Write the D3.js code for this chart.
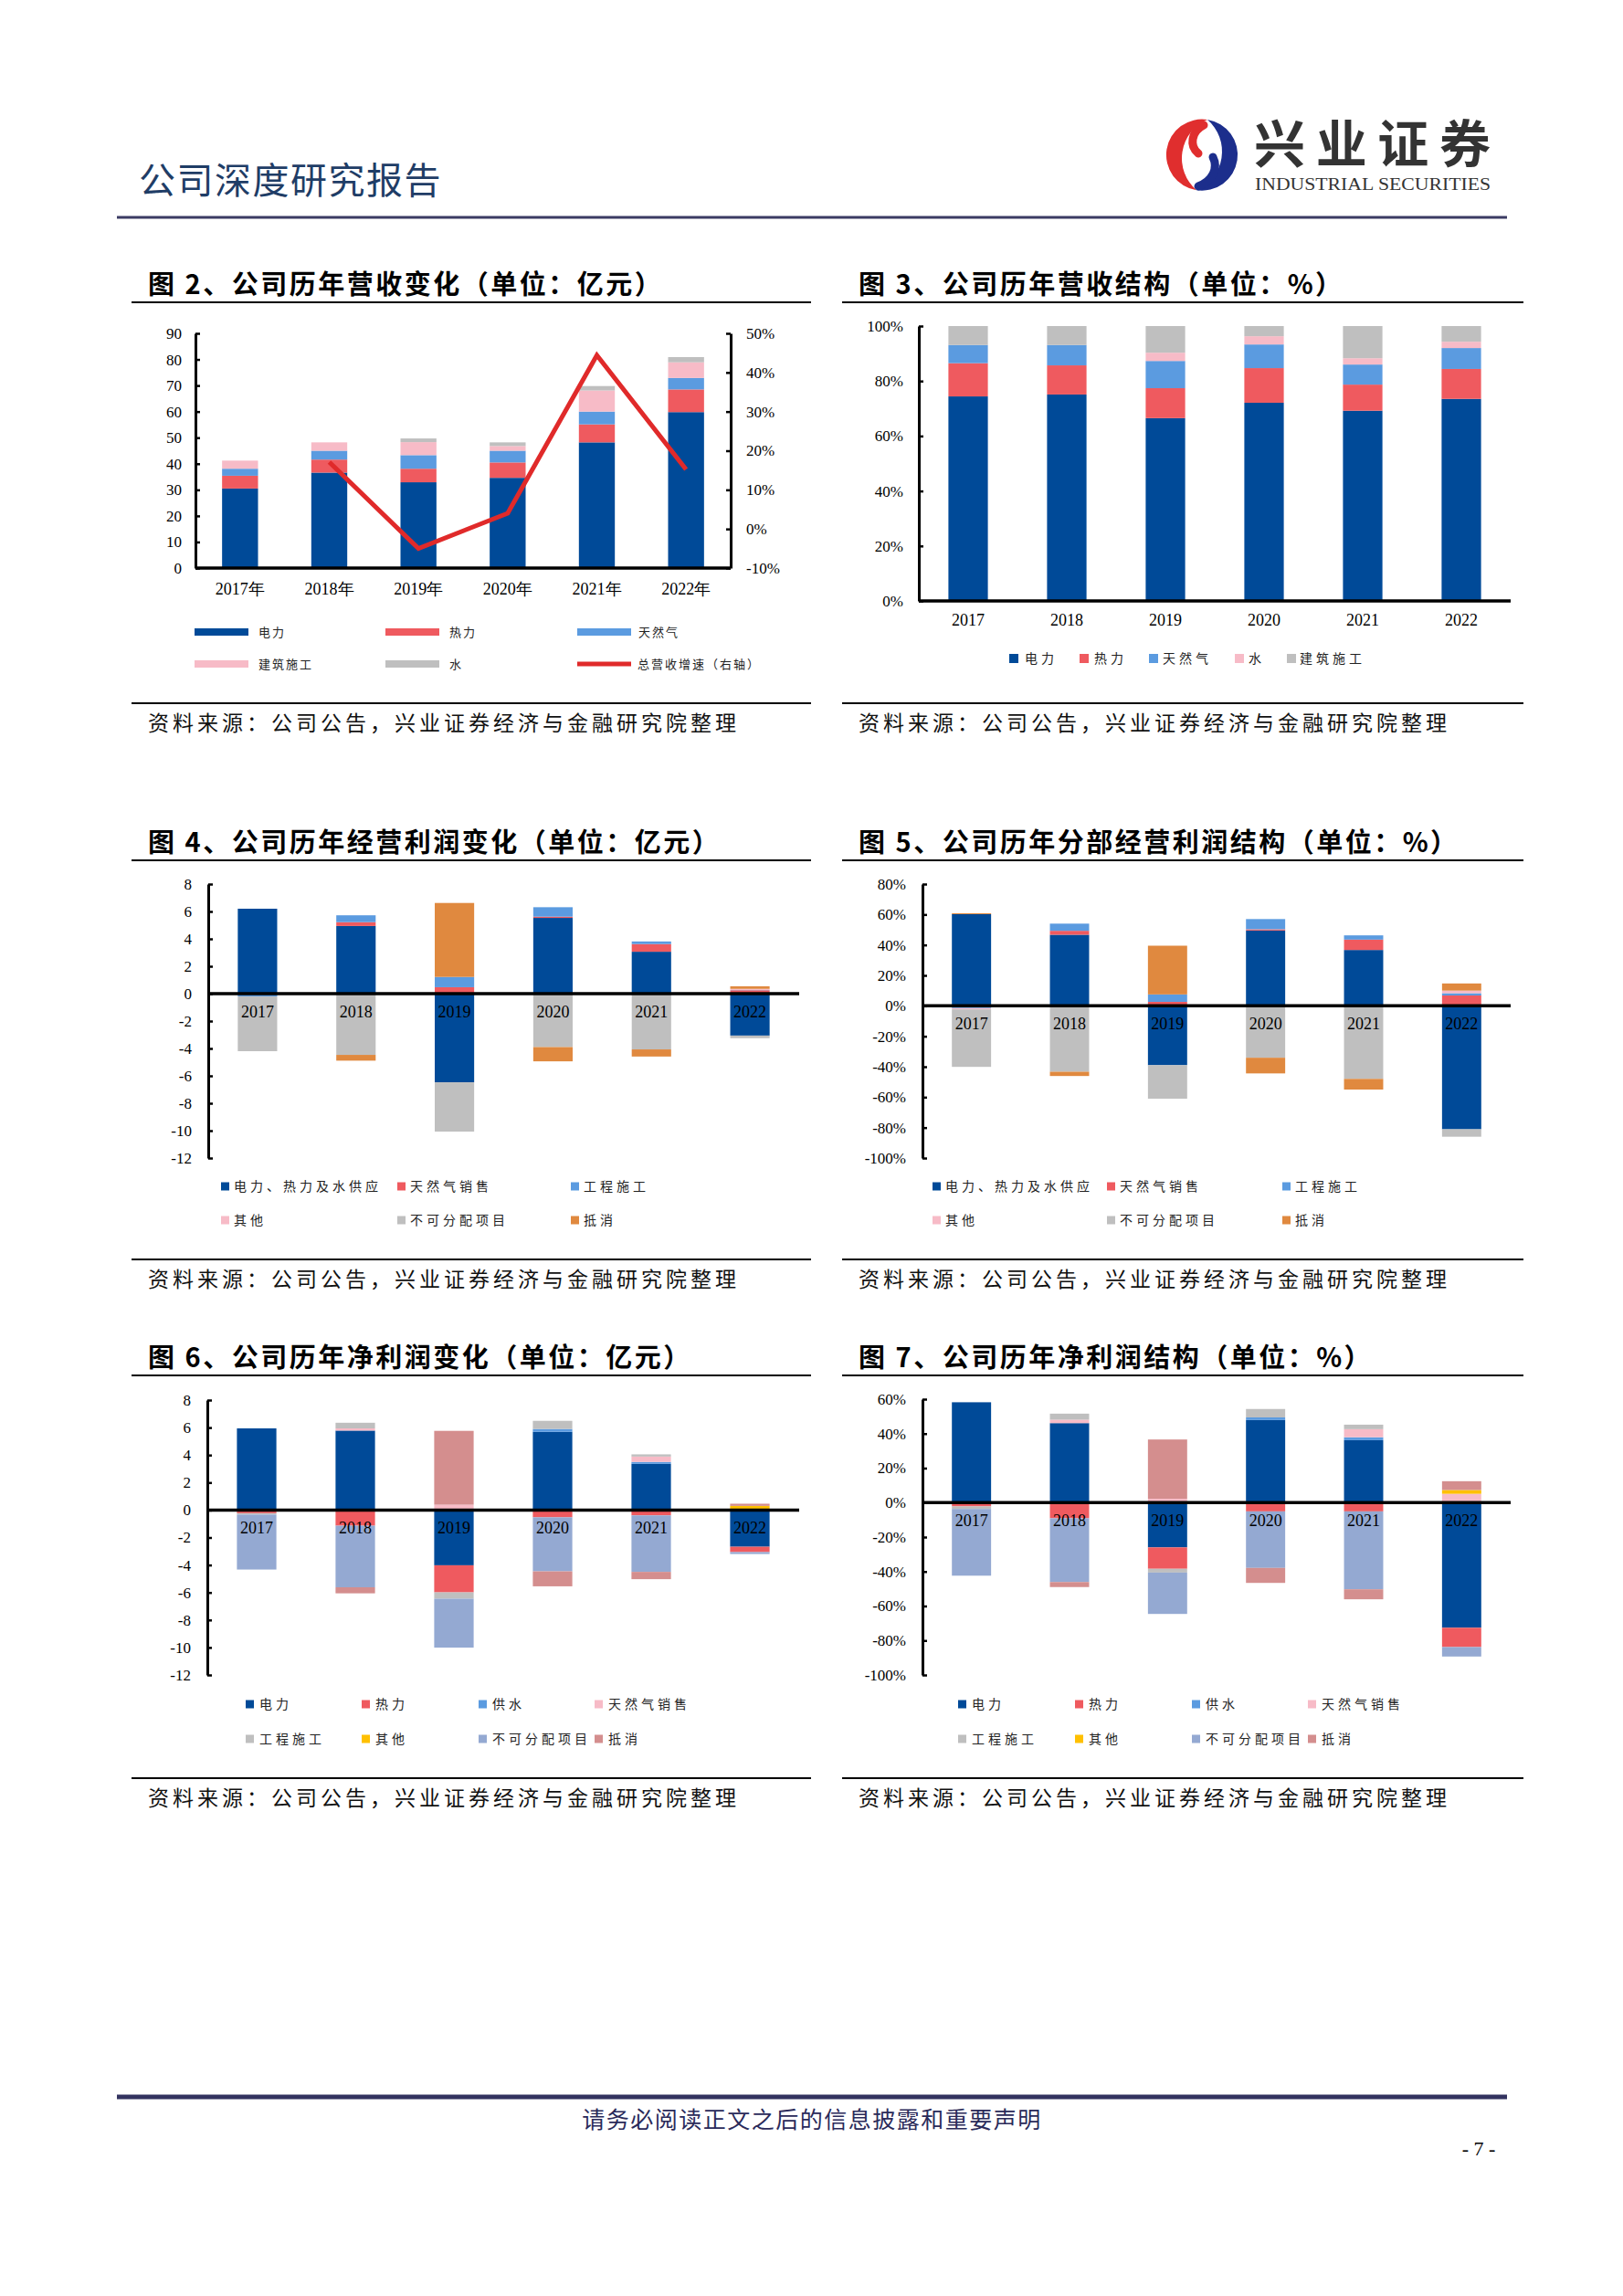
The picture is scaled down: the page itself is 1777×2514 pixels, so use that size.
<!DOCTYPE html>
<html>
<head>
<meta charset="utf-8">
<script src="https://cdn.jsdelivr.net/npm/d3@7"></script>
<style>
body { margin: 0; background: #fff; }
</style>
</head>
<body>
<svg id="page"></svg>
<script>
// years on every chart
var years = ["2017", "2018", "2019", "2020", "2021", "2022"];

// fig 2 - revenue (亿元)
var revKeys = ["电力", "热力", "天然气", "建筑施工", "水"];
var revPower = [30.5, 36.6, 32.9, 34.6, 48.2, 59.8];
var revHeat = [4.9, 5.0, 5.2, 5.9, 6.9, 8.7];
var revGas = [2.7, 3.4, 5.2, 4.5, 4.9, 4.4];
var revBuild = [3.1, 3.2, 5.0, 1.8, 8.1, 6.0];
var revWater = [0, 0, 1.4, 1.4, 1.7, 2.0];
var revGrowth = [null, 17.1, -5.0, 4.0, 44.4, 15.2];
var revTicks = [0, 10, 20, 30, 40, 50, 60, 70, 80, 90];
var growthTicks = [-10, 0, 10, 20, 30, 40, 50];

// fig 3 - revenue structure (%)
var shKeys = ["电力", "热力", "天然气", "水", "建筑施工"];
var shPower = [74.4, 75.1, 66.5, 72.1, 69.2, 73.5];
var shHeat = [12.1, 10.6, 10.9, 12.6, 9.5, 10.9];
var shGas = [6.6, 7.4, 9.9, 8.6, 7.3, 7.6];
var shWater = [0, 0, 3.0, 3.0, 2.3, 2.3];
var shBuild = [6.9, 6.9, 9.7, 3.7, 11.7, 5.7];
var shTicks = [0, 20, 40, 60, 80, 100];

// fig 4 - operating profit (亿元)
var opKeys = ["电力、热力及水供应", "天然气销售", "工程施工", "其他", "不可分配项目", "抵消"];
var opUtil = [6.2, 4.94, -6.47, 5.53, 3.06, -3.06];
var opGas = [0, 0.28, 0.47, 0.09, 0.56, 0.25];
var opEng = [-0.2, 0.5, 0.75, 0.69, 0.19, 0.02];
var opOther = [0, 0, 0, 0, 0, 0.08];
var opUnalloc = [-4.0, -4.47, -3.6, -3.9, -4.07, -0.19];
var opElim = [0, -0.42, 5.4, -1.04, -0.52, 0.19];
var opTicks = [-12, -10, -8, -6, -4, -2, 0, 2, 4, 6, 8];

// fig 5 - operating profit structure (%)
var opsUtil = [60.2, 46.7, -39.0, 49.5, 36.7, -81.1];
var opsGas = [0, 2.6, 2.6, 0.8, 6.8, 6.8];
var opsEng = [-1.5, 4.7, 4.9, 6.7, 2.8, 1.5];
var opsOther = [-0.8, 0, 0, 0, 0, 1.7];
var opsUnalloc = [-37.8, -43.3, -22.0, -34.1, -48.0, -4.9];
var opsElim = [0.6, -2.8, 32.0, -10.3, -7.0, 4.7];
var opsTicks = [-100, -80, -60, -40, -20, 0, 20, 40, 60, 80];

// fig 6 - net profit (亿元)
var npKeys = ["电力", "热力", "供水", "天然气销售", "工程施工", "其他", "不可分配项目", "抵消"];
var npPower = [5.94, 5.78, -4.02, 5.69, 3.36, -2.67];
var npHeat = [-0.23, -1.14, -1.97, -0.53, -0.39, -0.39];
var npWater = [0, 0, 0, 0.21, 0.14, 0];
var npGas = [0, 0.16, 0.39, 0, 0.39, 0];
var npEng = [-0.1, 0.41, -0.46, 0.59, 0.16, 0];
var npOther = [0, 0, 0, 0, 0, 0.3];
var npUnalloc = [-4.0, -4.48, -3.56, -3.93, -4.11, -0.14];
var npElim = [0, -0.44, 5.37, -1.09, -0.53, 0.16];
var npTicks = [-12, -10, -8, -6, -4, -2, 0, 2, 4, 6, 8];

// fig 7 - net profit structure (%)
var nsPower = [58.2, 46.1, -26.0, 47.9, 36.2, -72.6];
var nsHeat = [-2.2, -9.1, -12.4, -5.1, -5.1, -11.2];
var nsWater = [0, 0, 0, 1.5, 1.7, 0];
var nsGas = [0, 2.0, 2.2, 0, 4.7, 5.1];
var nsEng = [-1.5, 3.5, -2.2, 4.9, 2.6, 0];
var nsOther = [0, 0, 0, 0, 0, 2.2];
var nsUnalloc = [-38.7, -37.0, -24.0, -32.8, -45.2, -5.5];
var nsElim = [0, -2.9, 34.4, -8.7, -5.8, 5.1];
var nsTicks = [-100, -80, -60, -40, -20, 0, 20, 40, 60];

var W = 1777, H = 2514;
var CN = "'Noto Sans CJK SC', sans-serif";
var SERIF = "'Liberation Serif', 'Times New Roman', serif";

var C = {
    navy: "#004A98", red: "#EF5A5F", sky: "#5B9BE0", pink: "#F7BBC7",
    gray: "#BFBFBF", orange: "#E0893F", gold: "#FFC000", lav: "#94A9D2", rose: "#D48E8E"
};

var svg = d3.select("#page").attr("width", W).attr("height", H);
svg.append("rect").attr("width", W).attr("height", H).attr("fill", "#fff");

// ---------- header ----------
svg.append("text").attr("x", 152).attr("y", 212)
    .attr("font-family", CN).attr("font-size", 40).attr("letter-spacing", 1.5)
    .attr("fill", "#1F3D66").text("公司深度研究报告");
svg.append("line").attr("x1", 128).attr("x2", 1650).attr("y1", 238).attr("y2", 238)
    .attr("stroke", "#3B3B63").attr("stroke-width", 3);

// logo swirl: red crescent left, blue crescent right, curl in the middle
var lg = svg.append("g").attr("transform", "translate(1318,170)");
lg.append("path").attr("fill", "#E02E2E")
    .attr("d", "M 4 -39 A 39 39 0 0 0 -8 38.2 A 46 46 0 0 1 4 -39 Z");
lg.append("path").attr("fill", "#1C2E8C")
    .attr("d", "M 4 -39 A 39 39 0 1 1 -8 38.2 A 46 46 0 0 0 4 -39 Z");
lg.append("path").attr("fill", "none").attr("stroke", "#1C2E8C").attr("stroke-width", 9)
    .attr("stroke-linecap", "round")
    .attr("d", "M -6 34 C 10 28 16 14 10 2");
lg.append("path").attr("fill", "none").attr("stroke", "#E02E2E").attr("stroke-width", 9)
    .attr("stroke-linecap", "round")
    .attr("d", "M 0 -33 C -14 -26 -16 -10 -6 -2");

svg.append("text").attr("x", 1373).attr("y", 178)
    .attr("font-family", CN).attr("font-size", 56).attr("font-weight", 700)
    .attr("textLength", 259).attr("lengthAdjust", "spacing")
    .attr("fill", "#333").text("兴业证券");
svg.append("text").attr("x", 1374).attr("y", 208)
    .attr("font-family", SERIF).attr("font-size", 18)
    .attr("textLength", 258).attr("lengthAdjust", "spacingAndGlyphs")
    .attr("fill", "#333").text("INDUSTRIAL SECURITIES");

// ---------- footer ----------
svg.append("line").attr("x1", 128).attr("x2", 1650).attr("y1", 2296).attr("y2", 2296)
    .attr("stroke", "#33335F").attr("stroke-width", 5);
svg.append("text").attr("x", 889).attr("y", 2330).attr("text-anchor", "middle")
    .attr("font-family", CN).attr("font-size", 25).attr("letter-spacing", 1.5)
    .attr("fill", "#2A2A5A").text("请务必阅读正文之后的信息披露和重要声明");
svg.append("text").attr("x", 1619).attr("y", 2360).attr("text-anchor", "middle")
    .attr("font-family", SERIF).attr("font-size", 22)
    .attr("fill", "#000").text("- 7 -");

// ---------- panel frames ----------
function panel(xl, xr, ruleY, srcY, title) {
    svg.append("text").attr("x", xl + 18).attr("y", ruleY - 9)
        .attr("font-family", CN).attr("font-size", 29).attr("font-weight", 700)
        .attr("letter-spacing", 2.5).attr("fill", "#000").text(title);
    svg.append("line").attr("x1", xl).attr("x2", xr).attr("y1", ruleY).attr("y2", ruleY)
        .attr("stroke", "#000").attr("stroke-width", 2);
    svg.append("line").attr("x1", xl).attr("x2", xr).attr("y1", srcY).attr("y2", srcY)
        .attr("stroke", "#000").attr("stroke-width", 2);
    svg.append("text").attr("x", xl + 18).attr("y", srcY + 30)
        .attr("font-family", CN).attr("font-size", 23).attr("letter-spacing", 4)
        .attr("fill", "#111").text("资料来源：公司公告，兴业证券经济与金融研究院整理");
}

panel(144, 888, 331, 770, "图 2、公司历年营收变化（单位：亿元）");
panel(922, 1668, 331, 770, "图 3、公司历年营收结构（单位：%）");
panel(144, 888, 942, 1379, "图 4、公司历年经营利润变化（单位：亿元）");
panel(922, 1668, 942, 1379, "图 5、公司历年分部经营利润结构（单位：%）");
panel(144, 888, 1506, 1947, "图 6、公司历年净利润变化（单位：亿元）");
panel(922, 1668, 1506, 1947, "图 7、公司历年净利润结构（单位：%）");

// ---------- stacked bar chart ----------
function styleAxis(g) {
    g.attr("font-family", SERIF).attr("font-size", 17);
    g.select(".domain").attr("stroke", "#000").attr("stroke-width", 3);
    g.selectAll(".tick line").attr("stroke", "#000").attr("stroke-width", 2.5);
    g.selectAll(".tick text").attr("fill", "#000");
}

function stackChart(o) {
    var rows = years.map(function(yr, i) {
        var r = { year: yr };
        o.keys.forEach(function(k, j) { r[k] = o.values[j][i]; });
        return r;
    });
    var series = d3.stack().keys(o.keys).offset(d3.stackOffsetDiverging)(rows);

    var x = d3.scaleBand().domain(years).range([o.left, o.right])
        .paddingInner(o.pad).paddingOuter(o.pad / 2);
    var y = d3.scaleLinear().domain([d3.min(o.ticks), d3.max(o.ticks)]).range([o.bottom, o.top]);

    svg.append("g").selectAll("g")
        .data(series)
        .enter()
        .append("g")
        .attr("fill", function(d, i) { return o.colors[i]; })
        .selectAll("rect")
        .data(function(d) { return d; })
        .enter()
        .append("rect")
        .attr("x", function(d) { return x(d.data.year); })
        .attr("width", x.bandwidth())
        .attr("y", function(d) { return y(Math.max(d[0], d[1])); })
        .attr("height", function(d) { return Math.abs(y(d[0]) - y(d[1])); });

    var ax = svg.append("g").attr("transform", "translate(" + o.left + ",0)")
        .call(d3.axisLeft(y).tickValues(o.ticks).tickFormat(o.fmt)
            .tickSize(-5).tickSizeOuter(0).tickPadding(o.tickPad));
    styleAxis(ax);

    // zero / base line
    svg.append("line").attr("x1", o.left).attr("x2", o.right)
        .attr("y1", y(0)).attr("y2", y(0))
        .attr("stroke", "#000").attr("stroke-width", 3.5);

    svg.append("g").selectAll("text")
        .data(years)
        .enter()
        .append("text")
        .attr("x", function(d) { return x(d) + x.bandwidth() / 2; })
        .attr("y", y(0) + o.labelGap)
        .attr("text-anchor", "middle")
        .attr("font-family", SERIF).attr("font-size", 18).attr("fill", "#000")
        .text(function(d) { return d + (o.suffix || ""); });

    return { x: x, y: y };
}

function legend(items, fontSize, spacing) {
    items.forEach(function(it) {
        if (it.type === "line") {
            svg.append("line").attr("x1", it.x).attr("x2", it.x + it.w)
                .attr("y1", it.y).attr("y2", it.y)
                .attr("stroke", it.color).attr("stroke-width", 5);
        } else {
            svg.append("rect").attr("x", it.x).attr("y", it.y - it.h / 2)
                .attr("width", it.w).attr("height", it.h).attr("fill", it.color);
        }
        svg.append("text").attr("x", it.tx).attr("y", it.y + fontSize * 0.38)
            .attr("font-family", CN).attr("font-size", fontSize)
            .attr("letter-spacing", spacing).attr("fill", "#222").text(it.label);
    });
}

var pct = function(d) { return d + "%"; };
var num = function(d) { return d; };

// ---------- fig 2 ----------
var f2 = stackChart({
    keys: revKeys, values: [revPower, revHeat, revGas, revBuild, revWater],
    colors: [C.navy, C.red, C.sky, C.pink, C.gray],
    left: 214, right: 800, top: 365, bottom: 622, pad: 0.597,
    ticks: revTicks, fmt: num, tickPad: 15, labelGap: 29, suffix: "年"
});
var y2 = d3.scaleLinear().domain([d3.min(growthTicks), d3.max(growthTicks)]).range([622, 365]);
var ax2 = svg.append("g").attr("transform", "translate(800,0)")
    .call(d3.axisRight(y2).tickValues(growthTicks).tickFormat(pct)
        .tickSize(-5).tickSizeOuter(0).tickPadding(17));
styleAxis(ax2);

var growthLine = d3.line()
    .defined(function(d) { return d != null; })
    .x(function(d, i) { return f2.x(years[i]) + f2.x.bandwidth() / 2; })
    .y(function(d) { return y2(d); });
svg.append("path").datum(revGrowth).attr("d", growthLine)
    .attr("fill", "none").attr("stroke", "#E02A2A").attr("stroke-width", 5)
    .attr("stroke-linejoin", "miter");

legend([
    { label: "电力", color: C.navy, x: 213, y: 692, w: 59, h: 8, tx: 283 },
    { label: "热力", color: C.red, x: 422, y: 692, w: 59, h: 8, tx: 492 },
    { label: "天然气", color: C.sky, x: 632, y: 692, w: 59, h: 8, tx: 699 },
    { label: "建筑施工", color: C.pink, x: 213, y: 727, w: 59, h: 8, tx: 283 },
    { label: "水", color: C.gray, x: 422, y: 727, w: 59, h: 8, tx: 492 },
    { label: "总营收增速（右轴）", color: "#E02A2A", x: 632, y: 727, w: 59, type: "line", tx: 698 }
], 13, 2);

// ---------- fig 3 ----------
stackChart({
    keys: shKeys, values: [shPower, shHeat, shGas, shWater, shBuild],
    colors: [C.navy, C.red, C.sky, C.pink, C.gray],
    left: 1006, right: 1654, top: 357, bottom: 658, pad: 0.6,
    ticks: shTicks, fmt: pct, tickPad: 17, labelGap: 27
});
legend([
    { label: "电力", color: C.navy, x: 1105, y: 721, w: 10, h: 10, tx: 1122 },
    { label: "热力", color: C.red, x: 1182, y: 721, w: 10, h: 10, tx: 1198 },
    { label: "天然气", color: C.sky, x: 1258, y: 721, w: 10, h: 10, tx: 1273 },
    { label: "水", color: C.pink, x: 1352, y: 721, w: 10, h: 10, tx: 1367 },
    { label: "建筑施工", color: C.gray, x: 1409, y: 721, w: 10, h: 10, tx: 1423 }
], 14, 4);

// ---------- fig 4 / fig 5 ----------
var opColors = [C.navy, C.red, C.sky, C.pink, C.gray, C.orange];
stackChart({
    keys: opKeys, values: [opUtil, opGas, opEng, opOther, opUnalloc, opElim],
    colors: opColors,
    left: 228, right: 875, top: 968, bottom: 1268, pad: 0.6,
    ticks: opTicks, fmt: num, tickPad: 18, labelGap: 26
});
stackChart({
    keys: opKeys, values: [opsUtil, opsGas, opsEng, opsOther, opsUnalloc, opsElim],
    colors: opColors,
    left: 1010, right: 1654, top: 968, bottom: 1268, pad: 0.6,
    ticks: opsTicks, fmt: pct, tickPad: 18, labelGap: 26
});

function opLegend(cols, rows) {
    var items = opKeys.map(function(k, i) {
        var c = cols[i % 3], r = rows[Math.floor(i / 3)];
        return { label: k, color: opColors[i], x: c, y: r, w: 9, h: 9, tx: c + 14 };
    });
    legend(items, 14, 4);
}
opLegend([242, 435, 625], [1299, 1336]);
opLegend([1021, 1212, 1404], [1299, 1336]);

// ---------- fig 6 / fig 7 ----------
var npColors = [C.navy, C.red, C.sky, C.pink, C.gray, C.gold, C.lav, C.rose];
stackChart({
    keys: npKeys, values: [npPower, npHeat, npWater, npGas, npEng, npOther, npUnalloc, npElim],
    colors: npColors,
    left: 227, right: 875, top: 1533, bottom: 1834, pad: 0.6,
    ticks: npTicks, fmt: num, tickPad: 18, labelGap: 26
});
stackChart({
    keys: npKeys, values: [nsPower, nsHeat, nsWater, nsGas, nsEng, nsOther, nsUnalloc, nsElim],
    colors: npColors,
    left: 1010, right: 1654, top: 1532, bottom: 1834, pad: 0.6,
    ticks: nsTicks, fmt: pct, tickPad: 18, labelGap: 26
});

function npLegend(cols, rows) {
    var items = npKeys.map(function(k, i) {
        var c = cols[i % 4], r = rows[Math.floor(i / 4)];
        return { label: k, color: npColors[i], x: c, y: r, w: 9, h: 9, tx: c + 15 };
    });
    legend(items, 14, 4);
}
npLegend([269, 396, 524, 651], [1866, 1904]);
npLegend([1049, 1177, 1305, 1432], [1866, 1904]);
</script>
</body>
</html>
